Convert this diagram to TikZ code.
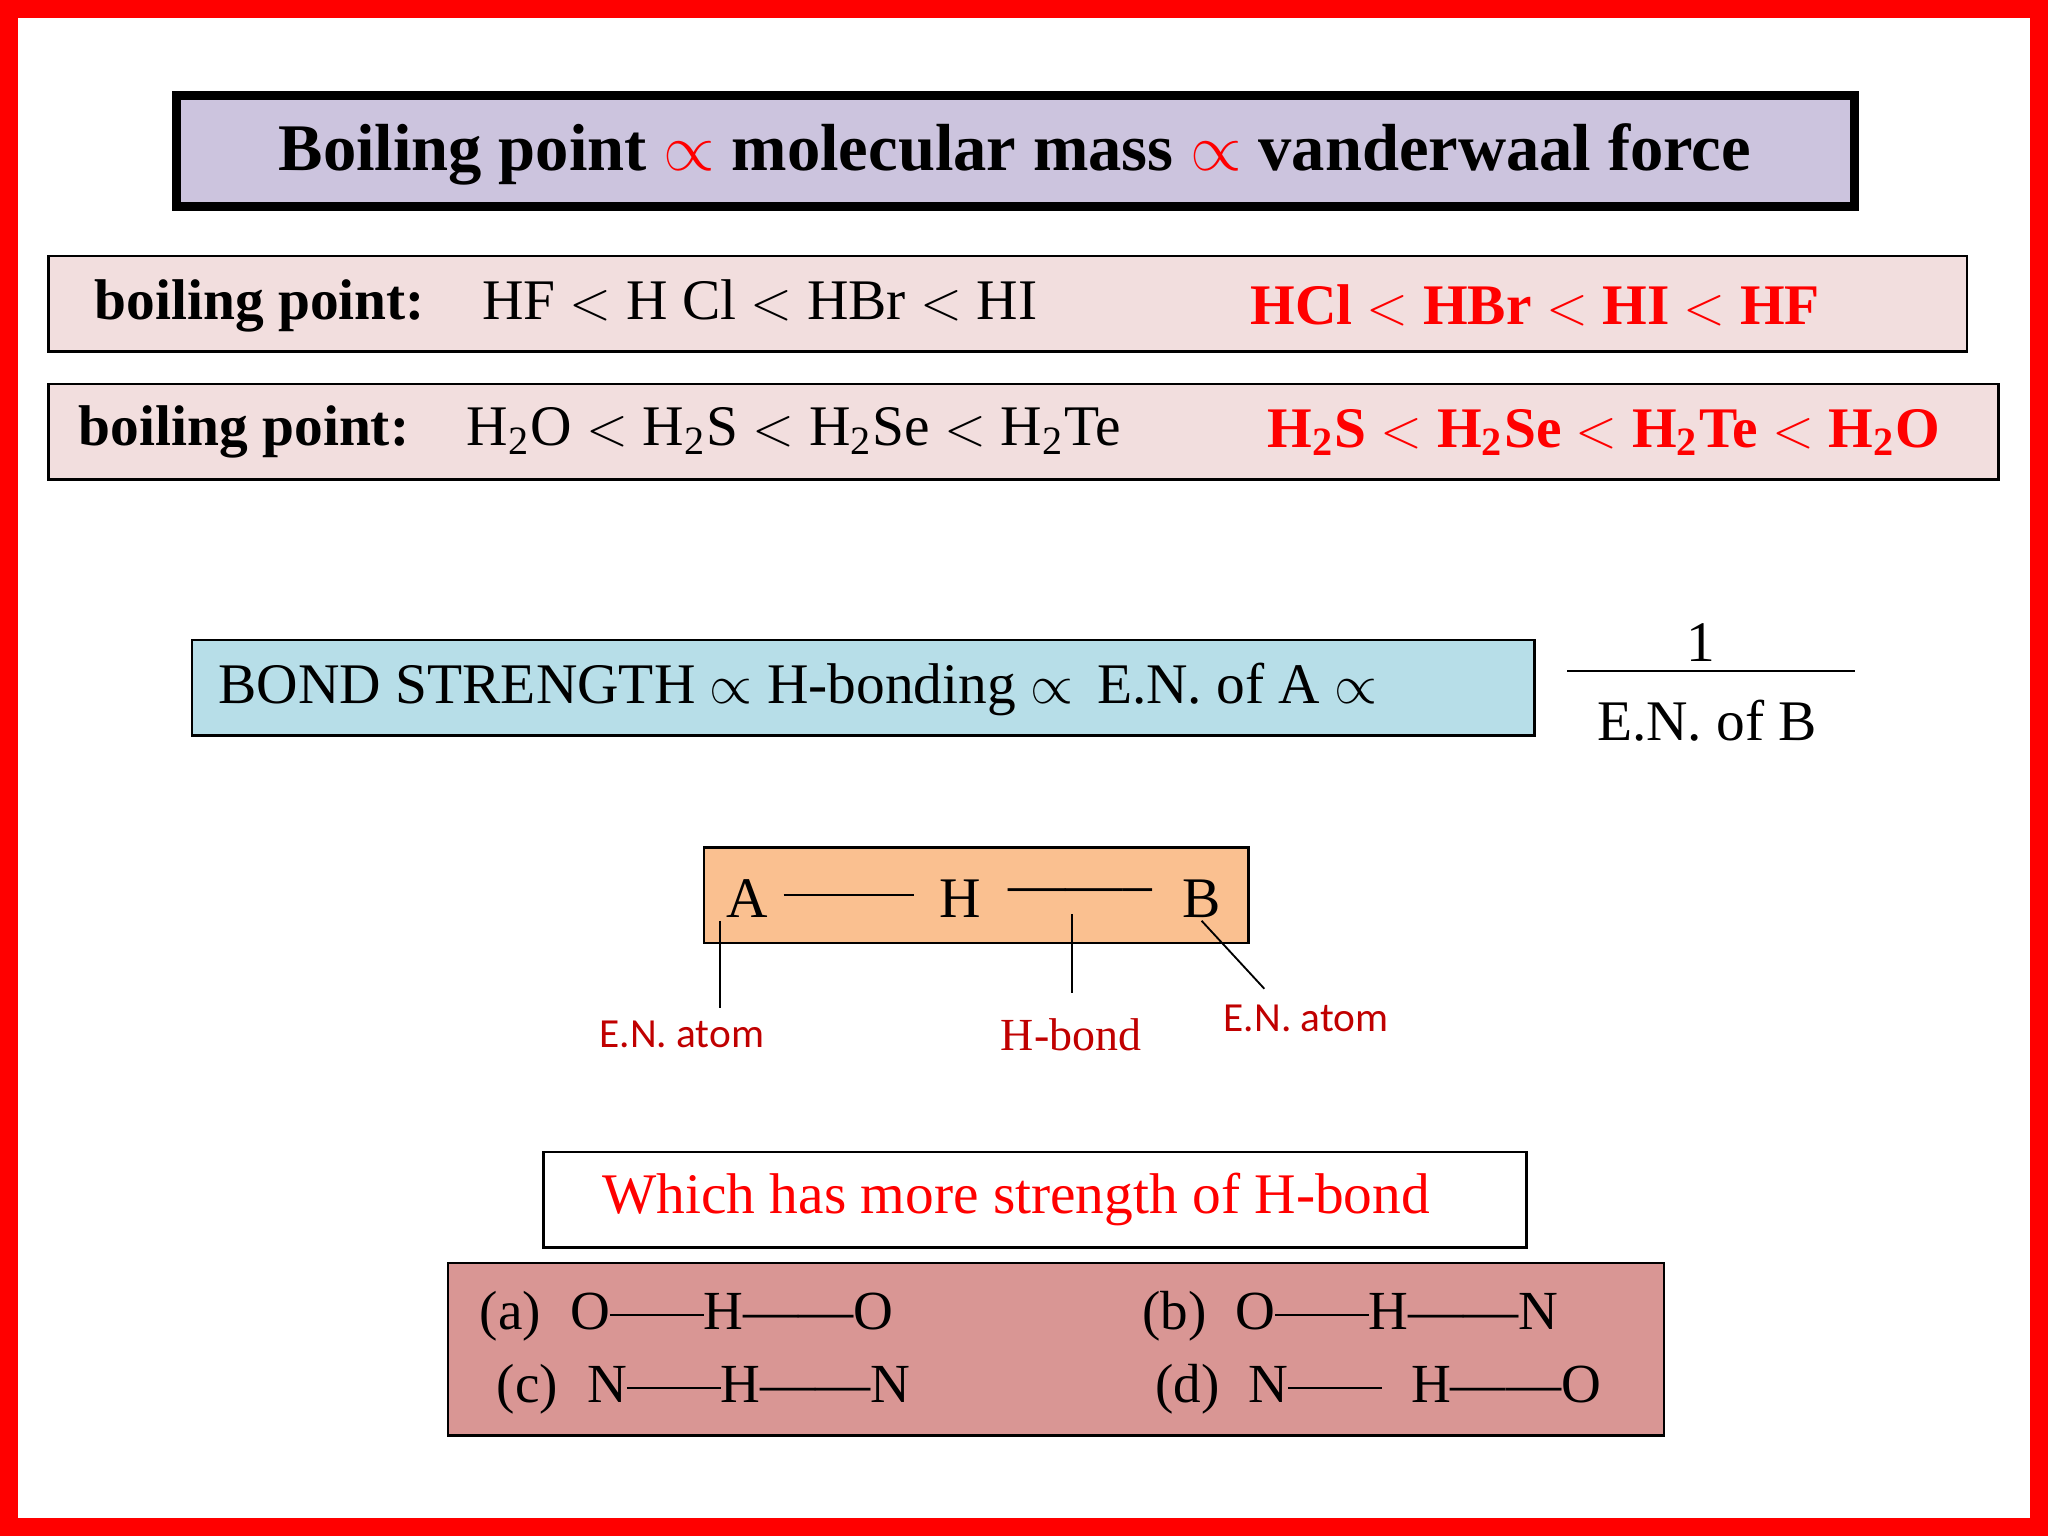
\documentclass[tikz,border=0pt]{standalone}
\usepackage{fontspec}
\setmainfont{Liberation Serif}
\newfontfamily\carfont{Carlito}
\begin{document}
\begin{tikzpicture}[x=0.01cm,y=-0.01cm,
  bx/.style={draw=black,line width=0.6pt},
  lbl/.style={text=labred,font=\carfont\fontsize{9}{10}\selectfont}]
\definecolor{labred}{RGB}{192,0,0}
\definecolor{lav}{RGB}{204,196,222}
\definecolor{pk}{RGB}{242,222,222}
\definecolor{cy}{RGB}{183,222,232}
\definecolor{org}{RGB}{250,192,144}
\definecolor{rose}{RGB}{217,150,148}
\useasboundingbox (0,0) rectangle (1568,1176);
\draw[red,line width=6pt] (3,3) rectangle (1565,1173);
\newcommand\hl{\raisebox{0.55ex}{\rule{1.7em}{0.5pt}}}
% title
\draw[bx,fill=lav,line width=2pt] (135,73) rectangle (1420,158);
\node (t) at (777,118) {\fontsize{14.5}{16}\selectfont\bfseries Boiling point {\color{red}$\propto$} molecular mass {\color{red}$\propto$} vanderwaal force};
% boiling rows
\draw[bx,fill=pk] (37,196) rectangle (1506,269);
\node[anchor=west] (b1) at (60,234) {\fontsize{12.5}{14}\selectfont\textbf{boiling point:}\quad HF $<$ H Cl $<$ HBr $<$ HI};
\node[anchor=west,text=red] (b1r) at (945,234) {\fontsize{12.5}{14}\selectfont\bfseries HCl $<$ HBr $<$ HI $<$ HF};
\draw[bx,fill=pk] (37,294) rectangle (1530,367);
\node[anchor=west] (b2) at (48,331) {\fontsize{12.5}{14}\selectfont\textbf{boiling point:}\quad H\textsubscript{2}O $<$ H\textsubscript{2}S $<$ H\textsubscript{2}Se $<$ H\textsubscript{2}Te};
\node[anchor=west,text=red] (b2r) at (958,331) {\fontsize{12.5}{14}\selectfont\bfseries H\textsubscript{2}S $<$ H\textsubscript{2}Se $<$ H\textsubscript{2}Te $<$ H\textsubscript{2}O};
% bond strength
\draw[bx,fill=cy] (147,490) rectangle (1175,563);
\node[anchor=west] (bs) at (155,528) {\fontsize{12.5}{14}\selectfont BOND STRENGTH $\propto$ H-bonding $\propto$\, E.N. of A $\propto$};
\node (one) at (1302,492) {\fontsize{12.5}{14}\selectfont 1};
\draw (1200,514) -- (1420,514);
\node (enb) at (1307,552) {\fontsize{12.5}{14}\selectfont E.N. of B};
% A-H-B
\draw[bx,fill=org] (539,649) rectangle (956,722);
\node (A) at (572,688) {\fontsize{12.5}{14}\selectfont A};
\node (H) at (735,688) {\fontsize{12.5}{14}\selectfont H};
\node (dash) at (827,686) {\fontsize{12.5}{14}\selectfont --------};
\node (B) at (920,688) {\fontsize{12.5}{14}\selectfont B};
\draw (600,685) -- (700,685);
\node[lbl] (l1) at (522,792) {E.N. atom};
\node[lbl,font=\fontsize{10}{12}\selectfont] (l2) at (820,792) {H-bond};
\node[lbl] (l3) at (1000,780) {E.N. atom};
\draw (551,705) -- (551,772);
\draw (821,700) -- (821,760);
\draw (920,705) -- (968,757);
% question
\draw[bx,fill=white] (416,882) rectangle (1169,955);
\node[text=red] (q) at (778,918) {\fontsize{12.5}{14}\selectfont Which has more strength of H-bond};
\draw[bx,fill=rose] (343,967) rectangle (1274,1099);
\node[anchor=west] (oa) at (355,1008) {\fontsize{12}{14}\selectfont (a)\; O\hl H------O};
\node[anchor=west] (ob) at (862,1008) {\fontsize{12}{14}\selectfont (b)\; O\hl H------N};
\node[anchor=west] (oc) at (368,1064) {\fontsize{12}{14}\selectfont (c)\; N\hl H------N};
\node[anchor=west] (od) at (872,1064) {\fontsize{12}{14}\selectfont (d)\; N\hl\; H------O};
\end{tikzpicture}
\end{document}
